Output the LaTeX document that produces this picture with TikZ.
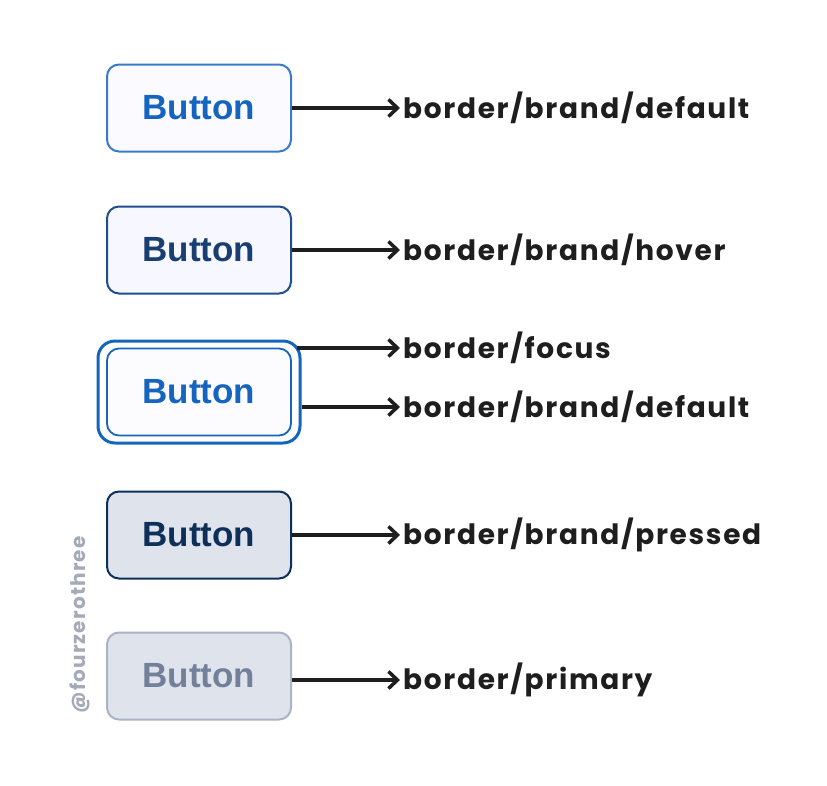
\documentclass[tikz,border=0pt]{standalone}
\usepackage{fontspec}
\usepackage{xcolor}
\usetikzlibrary{arrows.meta}
\newfontfamily\btnfont{Liberation Sans}
\newfontfamily\tagfont[LetterSpace=6]{Poppins}
\definecolor{ink}{HTML}{1E1E1E}
\definecolor{brand}{HTML}{1565C0}
\definecolor{brandhover}{HTML}{1F4F8F}
\definecolor{brandpressed}{HTML}{0D2F5A}
\definecolor{mutedfill}{HTML}{DFE3EC}
\definecolor{mutedline}{HTML}{A9B4C6}
\definecolor{mutedtext}{HTML}{728099}
\definecolor{markgray}{HTML}{A3AAB8}
\tikzset{
    btn-box/.style = {draw, rectangle, rounded corners=12pt, line width=2pt, minimum width=184pt, minimum height=87pt, font=\btnfont\bfseries\fontsize{35}{40}\selectfont},
    tag-text/.style = {anchor=west, inner sep=3pt, text=ink, font=\tagfont\bfseries\fontsize{28}{32}\selectfont},
    link/.style = {draw=ink, line width=3.5pt, -{Straight Barb[length=9pt,width=17pt,line width=3.5pt]}},
}
\begin{document}
\begin{tikzpicture}[x=1pt,y=-1pt]
\useasboundingbox[fill=white] (0,0) rectangle (827,785);
% default
\node [btn-box, draw=brand!85, fill=blue!2, text=brand] (b1) at (199,108) {Button};
\node [tag-text] (l1) at (400,108) {border/brand/default};
\draw [link] (b1.east) -- (l1.west);
% hover
\node [btn-box, draw=brandhover, fill=blue!3, text=brandhover!80!black] (b2) at (199,250) {Button};
\node [tag-text] (l2) at (400,250) {border/brand/hover};
\draw [link] (b2.east) -- (l2.west);
% focus
\node [tag-text] (l3a) at (400,348) {border/focus};
\node [tag-text] (l3b) at (400,407) {border/brand/default};
\node [btn-box, draw=brand, line width=3pt, minimum width=202pt, minimum height=102pt, rounded corners=17pt] (focus) at (199,392) {};
\draw [link] ([xshift=-5pt]focus.east |- l3a.west) -- (l3a.west);
\draw [link] (focus.east |- l3b.west) -- (l3b.west);
\node [btn-box, draw=brand, line width=1.8pt, fill=blue!1, text=brand] (b3) at (199,392) {Button};
% pressed
\node [btn-box, draw=brandpressed, fill=mutedfill, text=brandpressed] (b4) at (199,535) {Button};
\node [tag-text] (l4) at (400,535) {border/brand/pressed};
\draw [link] (b4.east) -- (l4.west);
% disabled
\node [btn-box, draw=mutedline, fill=mutedfill, text=mutedtext] (b5) at (199,676) {Button};
\node [tag-text] (l5) at (400,680) {border/primary};
\draw [link] (b5.east |- l5.west) -- (l5.west);
% watermark
\node [rotate=90, text=markgray, font=\tagfont\bfseries\fontsize{20}{22}\selectfont] (mark) at (80,625) {@fourzerothree};
\end{tikzpicture}
\end{document}
